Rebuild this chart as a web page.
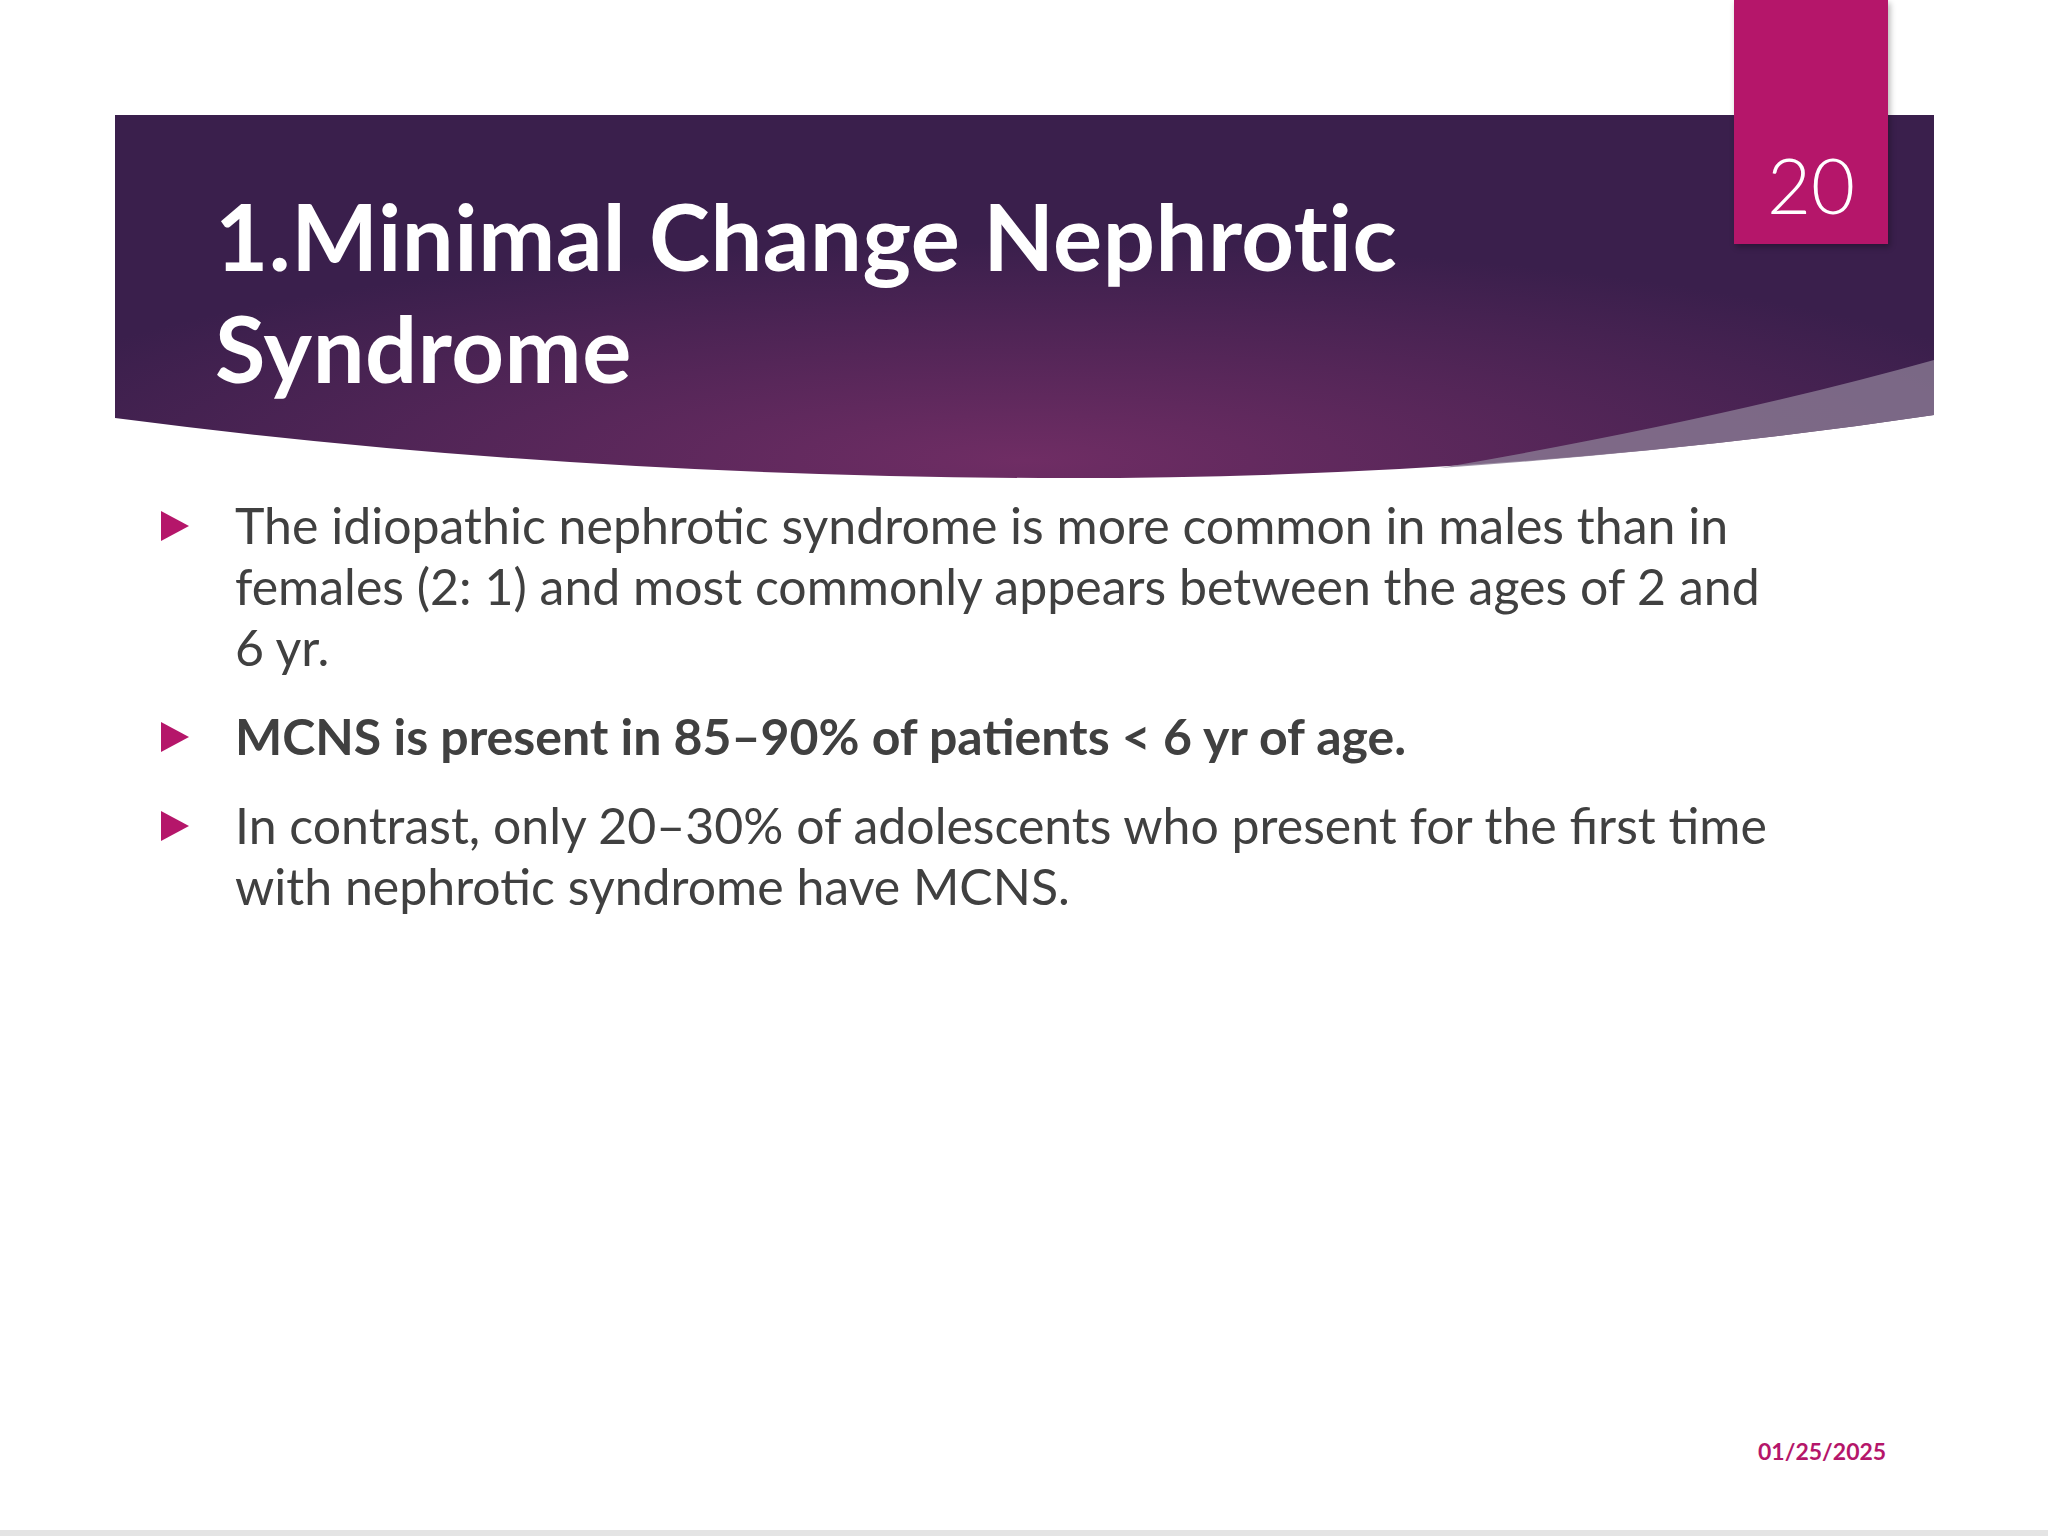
<!DOCTYPE html>
<html>
<head>
<meta charset="utf-8">
<script src="https://cdn.jsdelivr.net/npm/chart.js@4"></script>
<style>
  html, body { margin: 0; padding: 0; background: #fff; }
  #slide { position: relative; width: 2048px; height: 1536px; overflow: hidden; background: #fff;
    font-family: "Lato", "Open Sans", sans-serif; }
  #band { position: absolute; left: 0; top: 0; }
  #num { position: absolute; left: 1734px; top: 0; width: 154px; height: 244px; background: #b5166a;
    box-shadow: 2px 3px 6px rgba(0,0,0,0.3); color: #fff; font-size: 76px; font-weight: 300;
    text-align: center; line-height: 370px; }
  #title { position: absolute; left: 215px; top: 180px; color: #fff; font-size: 92px; font-weight: 700;
    line-height: 112px; letter-spacing: 0.5px; }
  ul { position: absolute; left: 161px; top: 495px; margin: 0; padding: 0; list-style: none; width: 1620px; }
  li { position: relative; padding-left: 74px; color: #404040; font-size: 50px; line-height: 61px; margin-bottom: 28px; }
  li::before { content: ""; position: absolute; left: 0; top: 16px; border-left: 28px solid #b5166a;
    border-top: 15px solid transparent; border-bottom: 15px solid transparent; }
  li.b { font-weight: 700; }
  #date { position: absolute; left: 1758px; top: 1437px; color: #b5166a; font-size: 23px; font-weight: 700; }
  #foot { position: absolute; left: 0; top: 1530px; width: 2048px; height: 6px; background: #e4e4e4; }
</style>
</head>
<body>
<div id="slide">
  <svg id="band" width="2048" height="500">
    <defs>
      <radialGradient id="g" cx="0.5" cy="0.95" r="0.6">
        <stop offset="0" stop-color="#6f2d64"/>
        <stop offset="1" stop-color="#3a1f4c"/>
      </radialGradient>
    </defs>
    <path d="M115 115 H1934 V415 Q1500 480 1040 478 Q560 476 115 418 Z" fill="url(#g)"/>
    <path d="M1934 360 V415 Q1700 450 1440 468 Q1720 420 1934 360 Z" fill="#8a7a94" opacity="0.8"/>
  </svg>
  <div id="num"></div>
  <div id="title"></div>
  <ul id="bullets"></ul>
  <div id="date"></div>
  <div id="foot"></div>
</div>
<script>
const slideNumber = '20';
const titleLines = ['1.Minimal Change Nephrotic', 'Syndrome'];
const bulletTexts = [
  'The idiopathic nephrotic syndrome is more common in males than in females (2: 1) and most commonly appears between the ages of 2 and 6 yr.',
  'MCNS is present in 85–90% of patients < 6 yr of age.',
  'In contrast, only 20–30% of adolescents who present for the first time with nephrotic syndrome have MCNS.'
];
const boldBullets = [false, true, false];
const dateText = '01/25/2025';

document.getElementById('num').textContent = slideNumber;
document.getElementById('title').innerHTML = titleLines.join('<br>');
const ul = document.getElementById('bullets');
bulletTexts.forEach((t, i) => {
  const li = document.createElement('li');
  li.textContent = t;
  if (boldBullets[i]) li.className = 'b';
  ul.appendChild(li);
});
document.getElementById('date').textContent = dateText;
</script>
</body>
</html>
